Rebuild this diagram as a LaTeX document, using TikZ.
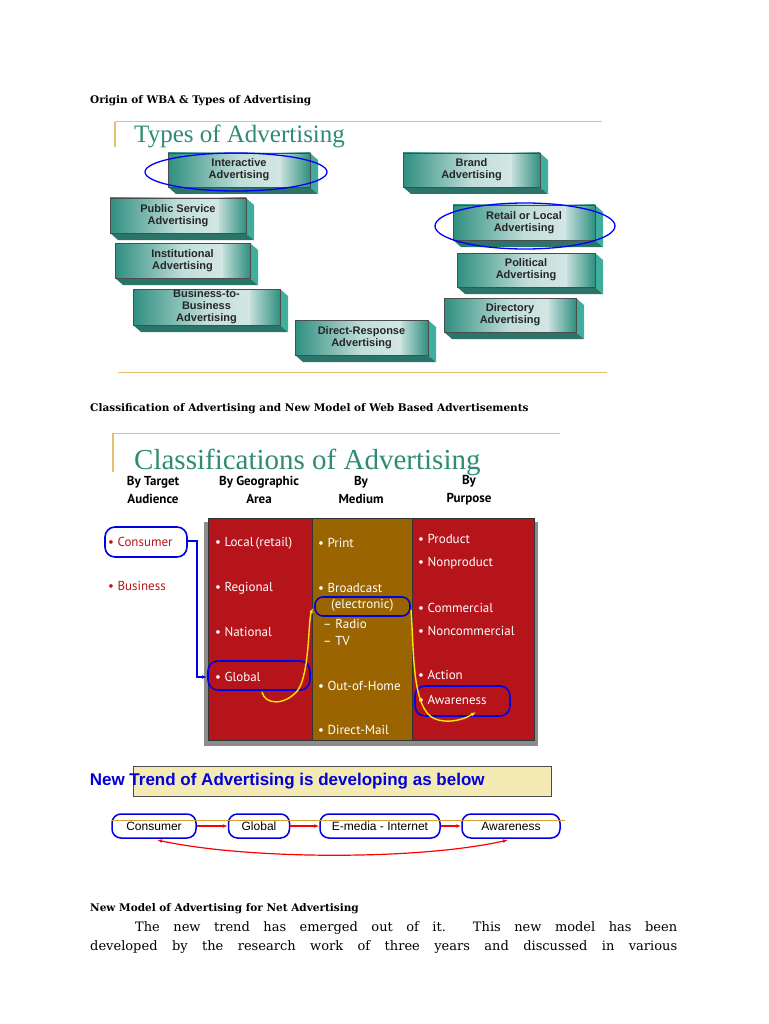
\documentclass[tikz,border=0pt]{standalone}
\usepackage{fontspec}
\setmainfont{DejaVu Serif}
\newfontfamily\arialf{Liberation Sans}
\newfontfamily\timesf{Liberation Serif}
\newfontfamily\ptf{PT Sans}
\usetikzlibrary{arrows.meta}
\definecolor{teal1}{HTML}{2F8F80}
\definecolor{tealside}{HTML}{3FAE9C}
\definecolor{tealbot}{HTML}{2A7469}
\definecolor{goldl}{HTML}{E2C16E}
\definecolor{titleteal}{HTML}{2F8C74}
\definecolor{advred}{HTML}{B5141B}
\definecolor{advgold}{HTML}{9A6400}
\definecolor{trendbg}{HTML}{F4EBB4}
\definecolor{linegold}{HTML}{D8A030}
\newcommand\tbox[6]{%
  \fill[tealbot] (#2,#5) -- (#4,#5) -- (#4+8,#5+7) -- (#2+8,#5+7) -- cycle;
  \fill[tealside] (#4,#3) -- (#4+8,#3+7) -- (#4+8,#5+7) -- (#4,#5) -- cycle;
  \draw[black!70, shading=axis, left color=teal1, right color=white!85!teal1, middle color=white!70!teal1] (#2,#3) rectangle (#4,#5);
  \shade[left color=white!70!teal1, right color=teal1] ({(#2+#4)/2+(#4-#2)*0.3},#3) rectangle (#4,#5);
  \draw[black!70] (#2,#3) rectangle (#4,#5);
  \node[typetext] (#1) at ({(#2+#4)/2},{(#3+#5)/2}) {#6};}
\begin{document}
\begin{tikzpicture}[x=1pt,y=-1pt,
  typetext/.style={align=center,font=\arialf\bfseries\fontsize{11}{12}\selectfont,text=black!85,inner sep=0pt},
  head/.style={anchor=west,font=\bfseries\fontsize{10.5}{12}\selectfont,inner sep=0pt},
  colhead/.style={align=center,font=\ptf\bfseries\fontsize{13}{18}\selectfont,inner sep=0pt},
  wt/.style={anchor=west,text=white,font=\ptf\fontsize{13}{15}\selectfont,inner sep=0pt},
  bluebox/.style={draw=blue!90!black,line width=1.6pt,rounded corners=10pt},
  flownode/.style={draw=blue!90!black,line width=1.5pt,rounded corners=9pt,fill=white,minimum height=24pt,font=\arialf\fontsize{12}{13}\selectfont,inner sep=2pt},
  redarrow/.style={draw=red,line width=1.2pt,-{Latex[length=5pt]}},
  yel/.style={draw=yellow!90!orange,line width=1.4pt}]
\useasboundingbox (0,0) rectangle (768,1024);
\fill[white] (0,0) rectangle (768,1024);
\node[head] (h1) at (90,101) {Origin of WBA \& Types of Advertising};
% slide 1
\draw[goldl,line width=1pt] (115,122) -- (602,122);
\draw[goldl,line width=2pt] (115,122) -- (115,147);
\draw[goldl,line width=1pt] (118,372) -- (607,372);
\node[anchor=west,inner sep=0pt,text=titleteal,font=\timesf\fontsize{25}{27}\selectfont] (t1) at (134,136) {Types of Advertising};
\tbox{ia}{168}{153}{310}{187}{Interactive\\Advertising}
\tbox{ba}{403}{153}{540}{187}{Brand\\Advertising}
\tbox{ps}{110}{198}{246}{233}{Public Service\\Advertising}
\tbox{rl}{453}{205}{595}{240}{Retail or Local\\Advertising}
\tbox{ins}{115}{243}{250}{278}{Institutional\\Advertising}
\tbox{pol}{457}{253}{595}{287}{Political\\Advertising}
\tbox{bb}{133}{289}{280}{325}{Business-to-\\Business\\Advertising}
\tbox{dir}{444}{298}{576}{332}{Directory\\Advertising}
\tbox{dr}{295}{320}{428}{355}{Direct-Response\\Advertising}
\draw[blue,line width=1.3pt] (236,172) ellipse [x radius=91, y radius=19];
\draw[blue,line width=1.3pt] (525,226) ellipse [x radius=90, y radius=23];
% slide 2
\node[head] (h2) at (90,409) {Classification of Advertising and New Model of Web Based Advertisements};
\draw[goldl,line width=1pt] (113,433) -- (560,433);
\draw[goldl,line width=2pt] (113,433) -- (113,472);
\node[anchor=west,inner sep=0pt,text=titleteal,font=\timesf\fontsize{29}{30}\selectfont] (t2) at (134,462) {Classifications of Advertising};
\node[colhead] (c1) at (153,490) {By Target\\Audience};
\node[colhead] (c2) at (259,490) {By Geographic\\Area};
\node[colhead] (c3) at (361,490) {By\\Medium};
\node[colhead] (c4) at (469,490) {By\\Purpose};
\fill[black!45] (204,522) rectangle (538,746);
\fill[advred] (208,518) rectangle (312,740);
\fill[advgold] (312,518) rectangle (412,740);
\fill[advred] (412,518) rectangle (534,740);
\draw[black!80] (208,518) rectangle (534,740) (312,518) -- (312,740) (412,518) -- (412,740);
\node[wt] (g1) at (215,543) {• Local\,(retail)};
\node[wt] (g2) at (215,588) {• Regional};
\node[wt] (g3) at (215,632) {• National};
\node[wt] (g4) at (215,677) {• Global};
\node[wt] (m1) at (318,543) {• Print};
\node[wt] (m2) at (318,588) {• Broadcast};
\node[wt] (m3) at (331,605) {(electronic)};
\node[wt] (m4) at (323,624) {– Radio};
\node[wt] (m5) at (323,641) {– TV};
\node[wt] (m6) at (318,686) {• Out-of-Home};
\node[wt] (m7) at (318,730) {• Direct-Mail};
\node[wt] (p1) at (418,539) {• Product};
\node[wt] (p2) at (418,563) {• Nonproduct};
\node[wt] (p3) at (418,608) {• Commercial};
\node[wt] (p4) at (418,631) {• Noncommercial};
\node[wt] (p5) at (418,675) {• Action};
\node[wt] (p6) at (418,700) {• Awareness};
\node[wt,text=advred!90!red] (a1) at (108,542) {• Consumer};
\node[wt,text=advred!90!red] (a2) at (108,586) {• Business};
\draw[bluebox] (105,527) rectangle (187,557);
\draw[bluebox] (208,661) rectangle (310,690);
\draw[bluebox,rounded corners=8pt] (315,597) rectangle (410,616);
\draw[bluebox] (415,686) rectangle (510,716);
\coordinate (cr) at (187,541);
\coordinate (gl) at (207,677);
\draw[blue!90!black,line width=1.3pt,-{Latex[length=5pt]}] (cr) -- (197,541) |- (gl);
\coordinate (y1s) at (262,692);
\coordinate (y1e) at (313,608);
\draw[yel,-{Latex[length=5pt]}] (y1s) .. controls (265,705) and (285,706) .. (298,690) .. controls (310,672) and (308,620) .. (y1e);
\coordinate (y2s) at (411,610);
\coordinate (y2e) at (476,712);
\draw[yel,-{Latex[length=5pt]}] (y2s) .. controls (414,650) and (412,700) .. (430,716) .. controls (440,724) and (460,722) .. (y2e);
% trend
\node[draw=black!70,fill=trendbg,minimum width=418pt,minimum height=30pt,font=\arialf\bfseries\fontsize{17}{18}\selectfont,text=blue!85!black,anchor=north west,inner sep=0pt] (tr) at (133,766) {\hspace*{-110pt}New Trend of Advertising is developing as below};
\node[flownode,minimum width=84pt] (f1) at (154,826) {Consumer};
\node[flownode,minimum width=61pt] (f2) at (259,826) {Global};
\node[flownode,minimum width=120pt] (f3) at (380,826) {E-media - Internet};
\node[flownode,minimum width=98pt] (f4) at (511,826) {Awareness};
\draw[linegold,line width=1pt] (112,820) -- (565,820);
\draw[redarrow] (f1) -- (f2);
\draw[redarrow] (f2) -- (f3);
\draw[redarrow] (f3) -- (f4);
\draw[draw=red,line width=1.2pt,{Latex[length=5pt]}-{Latex[length=5pt]}] (157,840) .. controls (250,860) and (420,860) .. (508,840);
% text
\node[head] (h3) at (90,909) {New Model of Advertising for Net Advertising};
\node[anchor=west,inner sep=0pt,font=\fontsize{13}{15}\selectfont] (l1) at (135,928) {\makebox[542pt][s]{The new trend has emerged out of it.\ \ This new model has been}};
\node[anchor=west,inner sep=0pt,font=\fontsize{13}{15}\selectfont] (l2) at (90,947) {\makebox[587pt][s]{developed by the research work of three years and discussed in various}};
\end{tikzpicture}
\end{document}
